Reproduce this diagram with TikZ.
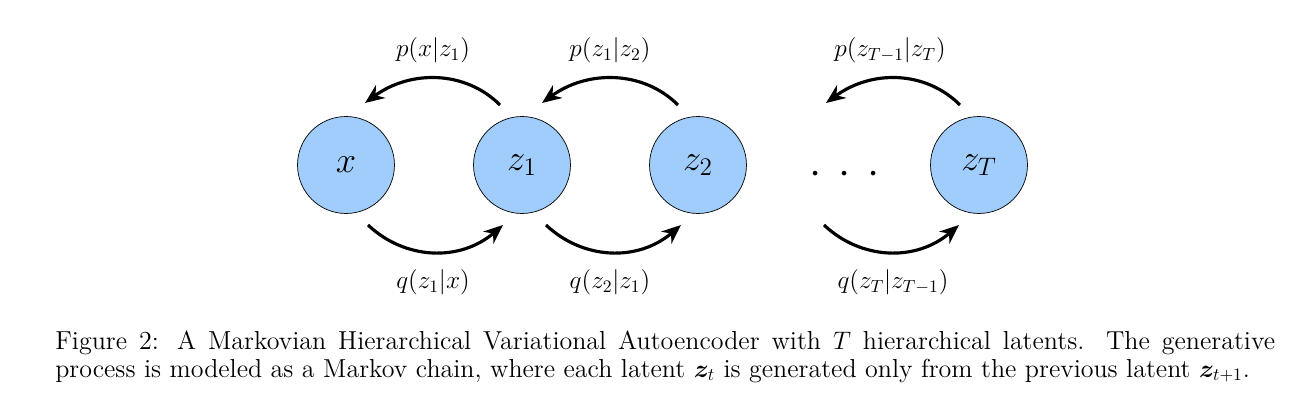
\documentclass[tikz,border=0pt]{standalone}
\usepackage{amsmath,bm}
\usetikzlibrary{arrows.meta}
\definecolor{nodeblue}{RGB}{160,205,252}
\begin{document}
\begin{tikzpicture}[x=0.02cm,y=-0.02cm,
  latent/.style={circle,draw=black,fill=nodeblue,minimum size=1.94cm,inner sep=0pt,font=\huge},
  flow/.style={-{Stealth[length=11pt,width=9pt]},line width=1.8pt},
  lab/.style={font=\Large}]
\useasboundingbox (0,0) rectangle (1306,405);
\node[latent] (x) at (346,165) {$x$};
\node[latent] (z1) at (522,165) {$z_1$};
\node[latent] (z2) at (698,165) {$z_2$};
\node[latent] (zT) at (979,165) {$z_T$};
\node[font=\Huge] (dots) at (845,175) {$\cdot\,\cdot\,\cdot$};
\coordinate (a1) at (500,105); \coordinate (b1) at (365,103);
\coordinate (a2) at (678,105); \coordinate (b2) at (542,103);
\coordinate (a3) at (960,105); \coordinate (b3) at (826,103);
\draw[flow] (a1) .. controls (465,70) and (410,70) .. (b1);
\draw[flow] (a2) .. controls (643,70) and (587,70) .. (b2);
\draw[flow] (a3) .. controls (925,70) and (871,70) .. (b3);
\coordinate (c1) at (368,225); \coordinate (d1) at (503,225);
\coordinate (c2) at (546,225); \coordinate (d2) at (681,225);
\coordinate (c3) at (824,225); \coordinate (d3) at (959,225);
\draw[flow] (c1) .. controls (405,260) and (460,262) .. (d1);
\draw[flow] (c2) .. controls (583,260) and (638,262) .. (d2);
\draw[flow] (c3) .. controls (861,260) and (916,262) .. (d3);
\node[lab] (l1) at (433,50) {$p(x|z_1)$};
\node[lab] (l2) at (610,50) {$p(z_1|z_2)$};
\node[lab] (l3) at (890,50) {$p(z_{T-1}|z_T)$};
\node[lab] (l4) at (433,282) {$q(z_1|x)$};
\node[lab] (l5) at (610,282) {$q(z_2|z_1)$};
\node[lab] (l6) at (893,282) {$q(z_T|z_{T-1})$};
\node[text width=24.4cm,align=justify,font=\fontsize{14.8}{15.5}\selectfont,inner sep=0pt,anchor=north west] (cap) at (55,331)
{Figure 2: A Markovian Hierarchical Variational Autoencoder with $T$ hierarchical latents. The generative process is modeled as a Markov chain, where each latent $\bm{z}_t$ is generated only from the previous latent $\bm{z}_{t+1}$.};
\end{tikzpicture}
\end{document}
